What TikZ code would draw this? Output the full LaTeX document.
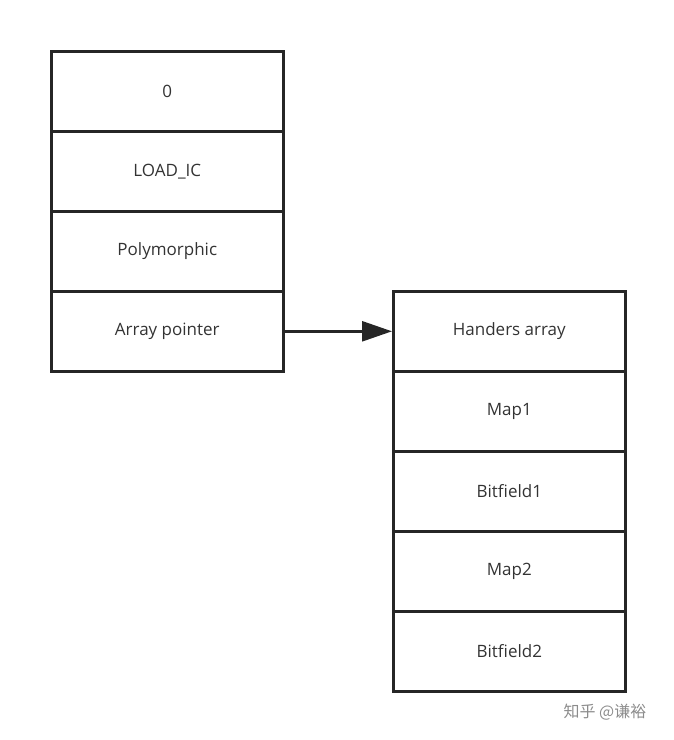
\documentclass[tikz,border=0pt]{standalone}
\usepackage{fontspec}
\setmainfont{Open Sans}
\newfontfamily\cjk{Noto Sans CJK SC}
\usetikzlibrary{arrows.meta}
\begin{document}
\begin{tikzpicture}[x=1pt,y=-1pt,
  cell/.style={draw=black!85,line width=2.6pt,minimum width=232pt,minimum height=80pt,inner sep=0pt,font=\fontsize{17}{20}\selectfont,text=black!80,anchor=north west},
  arr/.style={line width=2.6pt,draw=black!85,-{Triangle[length=30pt,width=20pt]}}]
\useasboundingbox (0,0) rectangle (674,740);
\node[cell] (a0) at (50,50) {0};
\node[cell] (a1) at (50,130) {LOAD\_IC};
\node[cell] (a2) at (50,210) {Polymorphic};
\node[cell] (a3) at (50,290) {Array pointer};
\node[cell] (b0) at (392,290) {Handers array};
\node[cell] (b1) at (392,370) {Map1};
\node[cell] (b2) at (392,450) {Bitfield1};
\node[cell] (b3) at (392,530) {Map2};
\node[cell] (b4) at (392,610) {Bitfield2};
\draw[arr] (a3.east) -- (b0.west);
\node[font=\cjk\fontsize{16}{18}\selectfont,text=black!45] (wm) at (605,712) {知乎 @谦裕};
\end{tikzpicture}
\end{document}
